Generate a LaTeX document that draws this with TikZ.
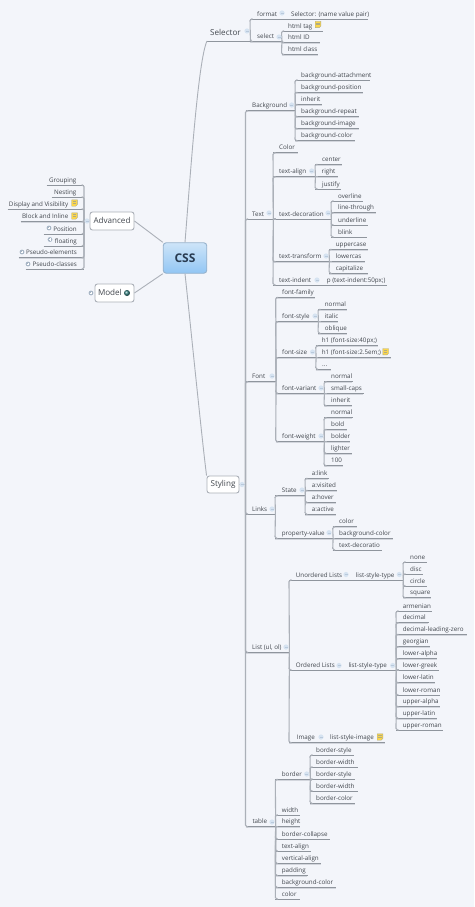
\documentclass[tikz,border=0pt]{standalone}
\usepackage{fontspec}
\setmainfont{Open Sans}
\usetikzlibrary{calc}
\definecolor{pagebg}{HTML}{F3F5FA}
\definecolor{txt}{HTML}{42474E}
\definecolor{lineD}{HTML}{8F959D}
\definecolor{lineL}{HTML}{D3D6DD}
\definecolor{busC}{HTML}{ABB0B8}
\definecolor{exC}{HTML}{D6E3F1}
\definecolor{exD}{HTML}{B9C9DB}
\tikzset{
  x=1pt,y=1pt,
  leaf/.style={inner xsep=0pt,inner ysep=1.1pt,text height=5.4pt,text depth=1.6pt,text=txt,font=\fontsize{6.25}{7.5}\selectfont},
  big/.style={leaf,text height=6.6pt,text depth=1.8pt,inner ysep=3pt,font=\fontsize{8.1}{10}\selectfont},
  uline/.style={draw=lineD,line width=0.7pt},
  ushadow/.style={draw=lineL,line width=0.8pt},
  bus/.style={draw=busC,line width=1.1pt,rounded corners=1.6pt},
  topic/.style={draw=busC,line width=0.9pt,rounded corners=2.5pt,fill=white,text=txt,font=\fontsize{8.1}{10}\selectfont,inner sep=0pt,text height=6.6pt,text depth=1.8pt,align=center},
  main/.style={draw=busC,line width=0.9pt},
}
% right-hand topic: underline from bus x to end x
\newcommand{\Rt}[7][leaf]{%
  \pgfmathsetmacro{\myw}{#5-#3}\pgfmathsetmacro{\myo}{#6-#3}%
  \draw[ushadow] (#3,-#4-0.8) -- (#5,-#4-0.8);
  \node[#1,anchor=south west] (#2) at (#3,-#4) {\makebox[\myw pt][l]{\hspace*{\myo pt}#7}};
  \draw[uline] (#2.south west) -- (#2.south east);
}
% left-hand topic: underline from start x to bus x
\newcommand{\Lt}[6]{%
  \pgfmathsetmacro{\myw}{#2-#4}\pgfmathsetmacro{\myo}{#2-#5}%
  \draw[ushadow] (#4,-#3-0.8) -- (#2,-#3-0.8);
  \node[leaf,anchor=south east] (#1) at (#2,-#3) {\makebox[\myw pt][r]{#6\hspace*{\myo pt}}};
  \draw[uline] (#1.south west) -- (#1.south east);
}
\newcommand{\lks}[2]{\foreach \cc in {#2} {\draw[bus] (\cc.south west) ++(2.5,0) -- (\cc.south west) -- (#1);}}
\newcommand{\llks}[2]{\foreach \cc in {#2} {\draw[bus] (\cc.south east) ++(-2.5,0) -- (\cc.south east) -- (#1);}}
\newcommand{\ex}[2]{%
  \fill[exC] (#1,-#2) circle (2.6);
  \draw[exD,line width=0.4pt] (#1-1.5,-#2) -- (#1+1.5,-#2);
}
\newcommand{\exb}[2]{%
  \fill[exD!90!black] (#1,-#2) circle (2.4);
  \draw[white,line width=0.3pt] (#1-1.3,-#2) -- (#1+1.3,-#2) (#1,-#2-1.3) -- (#1,-#2+1.3);
}
\newcommand{\noteicon}[2]{%
  \fill[yellow!60!orange!70] (#1-2.8,-#2+3.2) -- (#1+2.8,-#2+3.2) -- (#1+2.8,-#2-1.6) -- (#1+1.2,-#2-3.2) -- (#1-2.8,-#2-3.2) -- cycle;
  \draw[yellow!40!black!60,line width=0.4pt] (#1-2.8,-#2+3.2) -- (#1+2.8,-#2+3.2) -- (#1+2.8,-#2-1.6) -- (#1+1.2,-#2-3.2) -- (#1-2.8,-#2-3.2) -- cycle;
  \draw[yellow!40!black!60,line width=0.3pt] (#1-1.7,-#2+1.4) -- (#1+1.7,-#2+1.4) (#1-1.7,-#2) -- (#1+1.7,-#2);
}
\begin{document}
\begin{tikzpicture}
\useasboundingbox (0,-907) rectangle (474,0);
\fill[pagebg] (0,-907) rectangle (474,0);

% central topic
\node[rounded corners=3pt,minimum width=43.5pt,minimum height=30.5pt,inner sep=0pt,line width=0.9pt,
  draw={rgb,255:red,150;green,178;blue,204},top color={rgb,255:red,205;green,228;blue,248},bottom color={rgb,255:red,146;green,198;blue,244},
  text={rgb,255:red,40;green,58;blue,80},font=\bfseries\fontsize{12}{13}\selectfont] (css) at (185,-258) {CSS};

% first-level boxes
\node[topic,minimum width=44pt,minimum height=18pt] (adv) at (112,-221) {Advanced};
\node[topic,minimum width=39pt,minimum height=18pt] (model) at (114.5,-293) {\makebox[39pt][l]{\hspace*{3pt}Model}};
\node[topic,minimum width=32pt,minimum height=17pt] (sty) at (223,-484.5) {Styling};
\Rt[big]{sel}{207}{41}{250}{210}{Selector}
\draw[main] (css.north west) -- (adv.east);
\draw[main] (css.south west) -- (model.east);
\draw[main] (css.north) .. controls (190,-180) and (198,-60) .. (sel.south west);
\draw[main] (css.south) .. controls (190,-320) and (202,-440) .. (sty.north west);

% Selector
\Rt{fmt}{250}{19}{283}{257}{format}
\Rt{selval}{283}{19}{368}{291}{Selector: (name value pair)}
\Rt{selct}{250}{41.5}{281.5}{257}{select}
\lks{sel.south east}{fmt,selct}
\Rt{htag}{281.5}{31}{323}{288}{html tag}
\Rt{hid}{281.5}{42.5}{320}{288}{html ID}
\Rt{hcl}{281.5}{54.5}{318}{288}{html class}
\lks{selct.south east}{htag,hid,hcl}
\ex{247}{31} \ex{282}{13} \ex{279}{37} \noteicon{318}{24.5}

% Styling bus
\coordinate (stybus) at (245.5,-484.5);
\draw[main] (sty.east) -- (stybus);

% Background
\Rt{bg}{245.5}{110.7}{295}{252}{Background}
\Rt{bg1}{295}{80}{370}{301}{background-attachment}
\Rt{bg2}{295}{92.3}{363}{301}{background-position}
\Rt{bg3}{295}{104.5}{322}{301}{inherit}
\Rt{bg4}{295}{116.7}{359}{301}{background-repeat}
\Rt{bg5}{295}{128.7}{359}{301}{background-image}
\Rt{bg6}{295}{140.7}{355}{301}{background-color}
\lks{bg.south east}{bg1,bg2,bg3,bg4,bg5,bg6}
\ex{291.7}{105}

% Text
\Rt{tx}{245.5}{219}{273}{252}{Text}
\Rt{t1}{273}{152.7}{297.7}{279}{Color}
\Rt{t2}{273}{176.7}{315}{279}{text-align}
\Rt{t21}{315}{164.3}{342}{322}{center}
\Rt{t22}{315}{176.7}{338}{321.5}{right}
\Rt{t23}{315}{189}{340.7}{322}{justify}
\lks{t2.south east}{t21,t22,t23}
\Rt{t3}{273}{219}{331}{279}{text-decoration}
\Rt{t31}{331}{201}{363}{338}{overline}
\Rt{t32}{331}{212.7}{375.7}{338}{line-through}
\Rt{t33}{331}{225}{368}{338}{underline}
\Rt{t34}{331}{237}{366.7}{338}{blink}
\lks{t3.south east}{t31,t32,t33,t34}
\Rt{t4}{273}{261.7}{329}{279}{text-transform}
\Rt{t41}{329}{249.3}{368}{335.7}{uppercase}
\Rt{t42}{329}{261.7}{365}{335.7}{lowercas}
\Rt{t43}{329}{273.3}{368}{335.7}{capitalize}
\lks{t4.south east}{t41,t42,t43}
\Rt{t5}{273}{285}{322}{279}{text-indent}
\Rt{t51}{322}{285}{386.7}{326.7}{p (text-indent:50px;)}
\lks{tx.south east}{t1,t2,t3,t4,t5}
\ex{269}{213} \ex{311.7}{171} \ex{328}{213} \ex{326}{256} \ex{317}{280}

% Font
\Rt{fo}{245.5}{381.7}{275.7}{252}{Font}
\Rt{f1}{275.7}{297.3}{315}{282}{font-family}
\Rt{f2}{275.7}{321.7}{318}{282}{font-style}
\Rt{f21}{318}{309.3}{346.7}{324.7}{normal}
\Rt{f22}{318}{321.7}{338}{324.7}{italic}
\Rt{f23}{318}{333.3}{346.7}{324.7}{oblique}
\lks{f2.south east}{f21,f22,f23}
\Rt{f3}{275.7}{357.7}{315.7}{282}{font-size}
\Rt{f31}{315.7}{345.7}{378}{321.7}{h1 (font-size:40px;)}
\Rt{f32}{315.7}{357.7}{390.7}{321.7}{h1 (font-size:2.5em;)}
\Rt{f33}{315.7}{369.3}{330.7}{322}{...}
\lks{f3.south east}{f31,f32,f33}
\Rt{f4}{275.7}{393.3}{324}{282}{font-variant}
\Rt{f41}{324}{381.7}{352.3}{331}{normal}
\Rt{f42}{324}{393.3}{363.3}{331}{small-caps}
\Rt{f43}{324}{405.7}{351.7}{331}{inherit}
\lks{f4.south east}{f41,f42,f43}
\Rt{f5}{275.7}{441.7}{324}{282}{font-weight}
\Rt{f51}{324}{417.7}{352.3}{331}{normal}
\Rt{f52}{324}{429.3}{346.7}{331}{bold}
\Rt{f53}{324}{441.7}{350}{331}{bolder}
\Rt{f54}{324}{453.3}{351.7}{331}{lighter}
\Rt{f55}{324}{465.7}{343}{331}{100}
\lks{f5.south east}{f51,f52,f53,f54,f55}
\lks{fo.south east}{f1,f2,f3,f4,f5}
\ex{272}{376} \ex{315}{316} \ex{312.6}{352} \ex{321}{388} \ex{321}{436} \noteicon{385.7}{351.7}

% Links
\Rt{li}{245.5}{514}{275}{252}{Links}
\Rt{l1}{275}{495.7}{305}{281.7}{State}
\Rt{l11}{305}{478.3}{328.3}{311.7}{a:link}
\Rt{l12}{305}{490.3}{336.7}{311.7}{a:visited}
\Rt{l13}{305}{502.3}{336}{311.7}{a:hover}
\Rt{l14}{305}{514.3}{336}{311.7}{a:active}
\lks{l1.south east}{l11,l12,l13,l14}
\Rt{l2}{275}{538.3}{332.7}{281.7}{property-value}
\Rt{l21}{332.7}{526.7}{356.7}{339}{color}
\Rt{l22}{332.7}{538.3}{392.7}{339}{background-color}
\Rt{l23}{332.7}{550}{381.7}{339}{text-decoratio}
\lks{l2.south east}{l21,l22,l23}
\lks{li.south east}{l1,l2}
\ex{272}{509} \ex{302}{490} \ex{329}{532.7}

% List
\Rt{ls}{245.5}{652.3}{289}{252}{List (ul, ol)}
\Rt{u}{289}{580}{350}{295.7}{Unordered Lists}
\Rt{uu}{350}{580}{403}{355.7}{list-style-type}
\Rt{u1}{403}{562}{426.7}{410}{none}
\Rt{u2}{403}{574}{423}{410}{disc}
\Rt{u3}{403}{586}{426.7}{410}{circle}
\Rt{u4}{403}{597.7}{430.7}{410}{square}
\lks{uu.south east}{u1,u2,u3,u4}
\Rt{o}{289}{670}{343}{295.7}{Ordered Lists}
\Rt{oo}{343}{670}{396}{348.3}{list-style-type}
\Rt{o1}{396}{611}{431.7}{402.7}{armenian}
\Rt{o2}{396}{622.7}{428.3}{402.7}{decimal}
\Rt{o3}{396}{634.3}{466.7}{402.7}{decimal-leading-zero}
\Rt{o4}{396}{646.7}{430}{402.7}{georgian}
\Rt{o5}{396}{658.7}{436.7}{402.7}{lower-alpha}
\Rt{o6}{396}{670}{438.3}{402.7}{lower-greek}
\Rt{o7}{396}{682.7}{435}{402.7}{lower-latin}
\Rt{o8}{396}{695}{440}{402.7}{lower-roman}
\Rt{o9}{396}{706.7}{440}{402.7}{upper-alpha}
\Rt{o10}{396}{718.3}{436.7}{402.7}{upper-latin}
\Rt{o11}{396}{730}{442.7}{402.7}{upper-roman}
\lks{oo.south east}{o1,o2,o3,o4,o5,o6,o7,o8,o9,o10,o11}
\Rt{im}{289}{742.7}{325}{296.7}{Image}
\Rt{imi}{325}{742.7}{385}{330}{list-style-image}
\lks{ls.south east}{u,o,im}
\ex{286}{647} \ex{346}{574.5} \ex{399.3}{574.5} \ex{339}{665.5} \ex{392.7}{665.5} \ex{321}{737} \noteicon{380}{737}

% table
\Rt{ta}{245.5}{826.7}{275.3}{252.3}{table}
\Rt{b}{275.3}{779.3}{310}{281.7}{border}
\Rt{b1}{310}{755}{353.3}{316}{border-style}
\Rt{b2}{310}{767}{357.3}{316}{border-width}
\Rt{b3}{310}{779}{355}{316}{border-style}
\Rt{b4}{310}{791}{357.3}{316}{border-width}
\Rt{b5}{310}{803.3}{355}{316}{border-color}
\lks{b.south east}{b1,b2,b3,b4,b5}
\Rt{w1}{275.3}{815}{300}{281.7}{width}
\Rt{w2}{275.3}{826.7}{300}{281.7}{height}
\Rt{w3}{275.3}{839}{329.3}{281.7}{border-collapse}
\Rt{w4}{275.3}{851}{310.7}{281.7}{text-align}
\Rt{w5}{275.3}{863.3}{320.7}{281.7}{vertical-align}
\Rt{w6}{275.3}{875.3}{307.3}{281.7}{padding}
\Rt{w7}{275.3}{887.3}{335.7}{281.7}{background-color}
\Rt{w8}{275.3}{899}{299.3}{281.7}{color}
\lks{ta.south east}{b,w1,w2,w3,w4,w5,w6,w7,w8}
\ex{272}{822} \ex{306.7}{774}

% trunk from Styling
\lks{stybus}{bg,tx,fo,li,ls,ta}
\ex{242}{484.5}

% Advanced (left side)
\coordinate (advbus) at (84,-221.7);
\draw[main] (adv.west) -- (advbus);
\Lt{a1}{84}{185}{47}{76.5}{Grouping}
\Lt{a2}{84}{197}{52}{76.5}{Nesting}
\Lt{a3}{84}{209}{8}{68.5}{Display and Visibility}
\Lt{a4}{84}{221.7}{21}{68.5}{Block and Inline}
\Lt{a5}{84}{234}{44}{77}{Position}
\Lt{a6}{84}{246}{44}{77}{floating}
\Lt{a7}{84}{257.7}{19}{77}{Pseudo-elements}
\Lt{a8}{84}{269}{26}{77}{Pseudo-classes}
\llks{advbus}{a1,a2,a3,a4,a5,a6,a7,a8}
\ex{87}{221}
\noteicon{74.5}{203} \noteicon{74.5}{216}
\exb{49}{228} \exb{50}{239.5} \exb{22}{252} \exb{28}{264}

% Model icons
\exb{91}{293}
\shade[ball color=teal!60!gray] (127,-293) circle (3);
\end{tikzpicture}
\end{document}
